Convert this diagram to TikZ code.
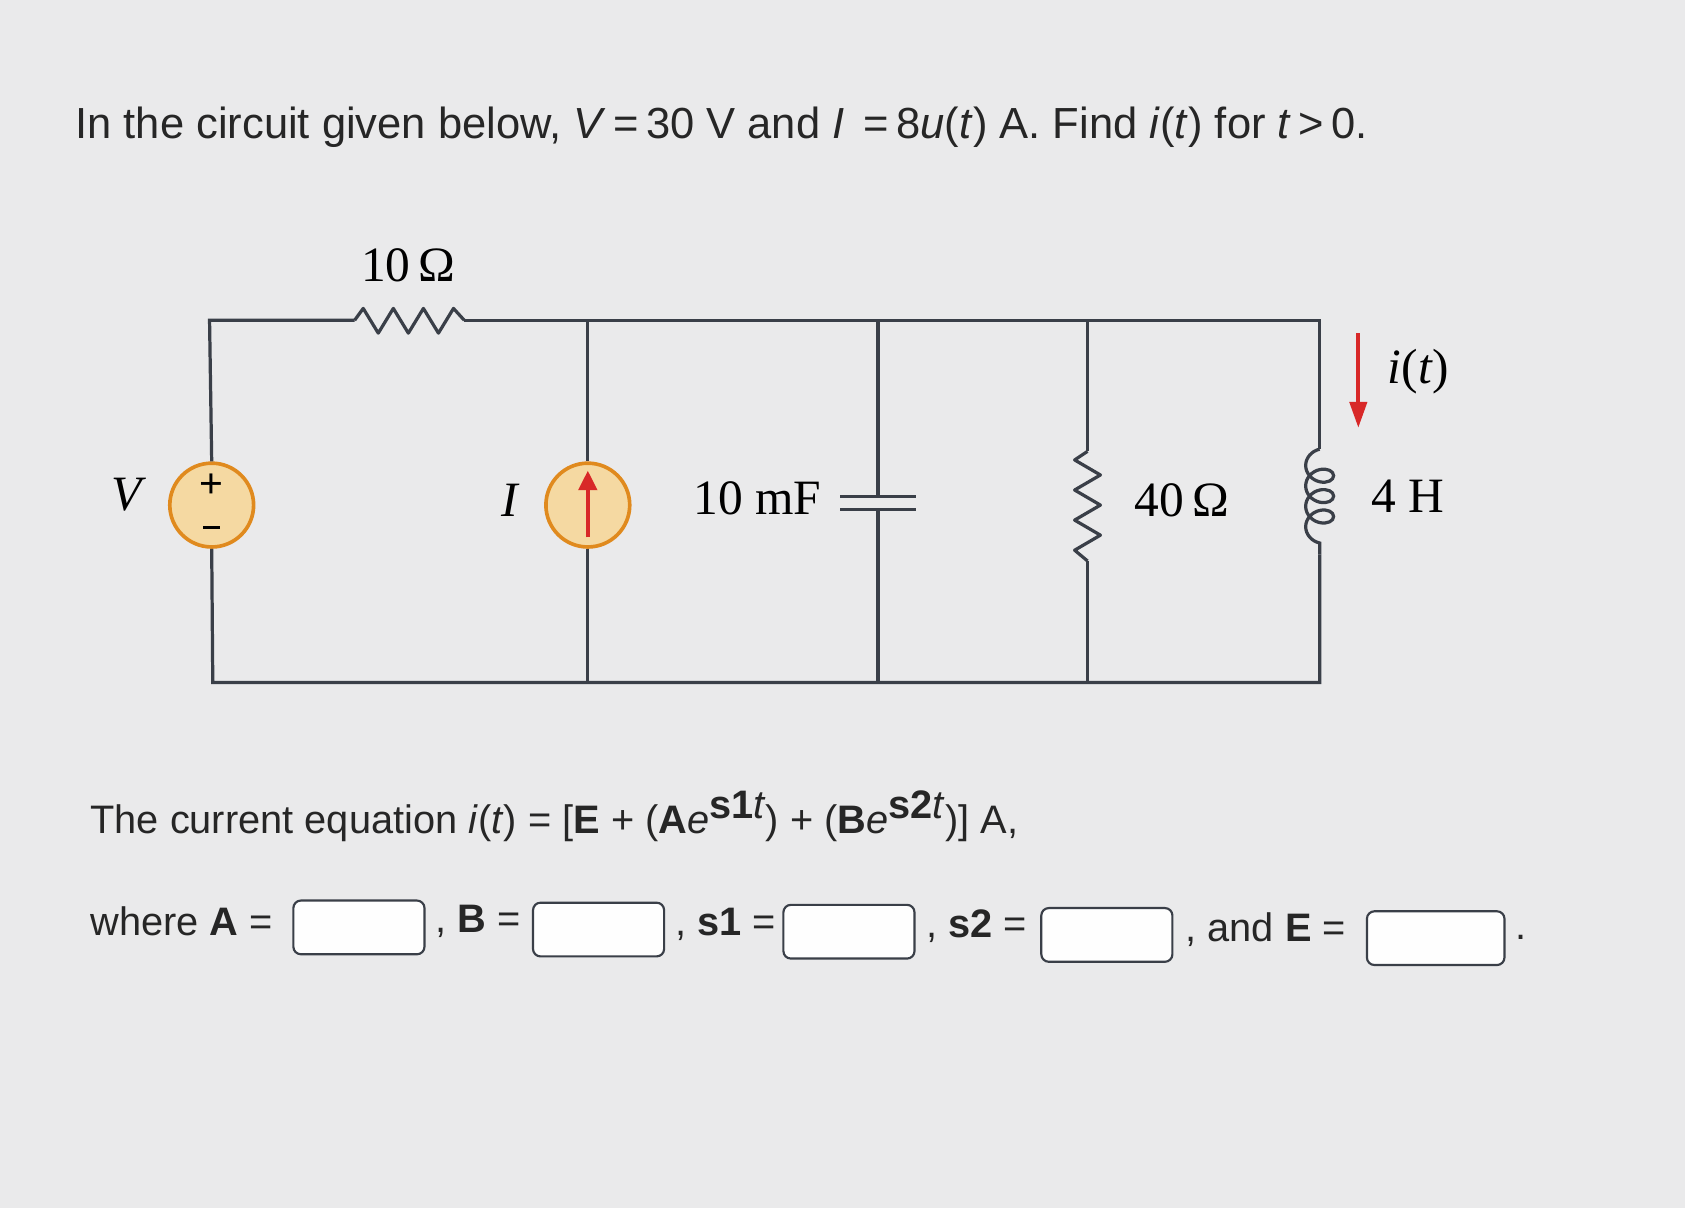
\documentclass[tikz,border=0pt]{standalone}
\usepackage{fontspec}
\setmainfont{Liberation Sans}
\newfontfamily\ckt{Liberation Serif}
\usetikzlibrary{decorations.pathmorphing,arrows.meta}
\definecolor{bg}{HTML}{EAEAEB}
\definecolor{srcfill}{HTML}{F5D9A2}
\definecolor{srcline}{HTML}{E08A1E}
\definecolor{wire}{HTML}{3A3F48}
\definecolor{arr}{HTML}{D82828}
\begin{document}
\begin{tikzpicture}[x=1pt,y=-1pt,
  w/.style={draw=wire,line width=3pt},
  src/.style={circle,draw=srcline,fill=srcfill,line width=3.4pt,minimum size=78pt,inner sep=0pt},
  lab/.style={font=\ckt\fontsize{46}{50}\selectfont,text=black},
  txt/.style={font=\fontsize{37}{42}\selectfont,text=black!85,anchor=west,inner sep=0},
  ans/.style={draw=wire,line width=2pt,rounded corners=7pt,fill=white!96!bg,minimum width=122pt,minimum height=50pt}]
\fill[bg] (0,0) rectangle (1568,1124);
\useasboundingbox (0,0) rectangle (1568,1124);
\node[txt,font=\fontsize{40.5}{44}\selectfont] (title) at (70,118) {In the circuit given below, \textit{V}\,=\,30 V and \textit{I} \,=\,8\textit{u}(\textit{t}) A. Find \textit{i}(\textit{t}) for \textit{t}\,>\,0.};
% corners
\coordinate (tl) at (195,298); \coordinate (bl) at (198,635);
\coordinate (r1a) at (330,298); \coordinate (r1b) at (432,298);
\coordinate (t2) at (547,298); \coordinate (b2) at (547,635);
\coordinate (t3) at (817,298); \coordinate (b3) at (817,635);
\coordinate (t4) at (1012,298); \coordinate (b4) at (1012,635);
\coordinate (t5) at (1228,298); \coordinate (b5) at (1228,635);
% sources
\node[src] (vs) at (197,470) {};
\node[font=\fontsize{38}{38}\selectfont] at (197,452) {+};
\draw[line width=2.4pt] (189,491)--(205,491);
\node[src] (is) at (547,470) {};
\draw[arr,line width=3.5pt,-{Triangle[length=18pt,width=17pt]}] (547,500)--(547,438);
% capacitor
\coordinate (c1) at (817,462); \coordinate (c2) at (817,474);
\draw[w] (782,462)--(852,462); \draw[w] (782,474)--(852,474);
% resistor 40
\coordinate (r2a) at (1012,420); \coordinate (r2b) at (1012,522);
\draw[w,line join=round] (r2a)--(1000,428)--(1024,442)--(1000,456)--(1024,470)--(1000,484)--(1024,498)--(1000,512)--(r2b);
% resistor 10
\draw[w,line join=round] (r1a)--(338,287)--(352,310)--(366,287)--(380,310)--(394,287)--(408,310)--(422,287)--(r1b);
% inductor
\coordinate (la) at (1228,418); \coordinate (lb) at (1228,516);
\draw[w,decorate,decoration={coil,aspect=0.8,segment length=19pt,amplitude=13pt,mirror}] (la)--(lb);
% wires
\draw[w] (vs.north)--(tl)--(r1a);
\draw[w] (r1b)--(t5)--(la);
\draw[w] (lb)--(b5)--(bl)--(vs.south);
\draw[w] (t2)--(is.north); \draw[w] (is.south)--(b2);
\draw[w] (t3)--(c1); \draw[w] (c2)--(b3);
\draw[w] (t4)--(r2a); \draw[w] (r2b)--(b4);
% current arrow
\coordinate (ia) at (1264,310); \coordinate (ib) at (1264,398);
\draw[arr,line width=3.5pt,-{Triangle[length=24pt,width=16pt]}] (ia)--(ib);
% labels
\node[lab] (lr1) at (380,247) {10\,Ω};
\node[lab] (lv) at (120,460) {\textit{V}};
\node[lab] (li) at (475,466) {\textit{I}};
\node[lab] (lc) at (705,464) {10 mF};
\node[lab] (lr2) at (1100,466) {40\,Ω};
\node[lab] (ll) at (1310,462) {4 H};
\node[lab] (lit) at (1320,346) {\textit{i}(\textit{t})};
% equation
\node[txt] (eq) at (84,760) {The current equation \textit{i}(\textit{t}) = [\textbf{E} + (\textbf{A}\textit{e}\raisebox{14pt}{\textbf{s1}\textit{t}}) + (\textbf{B}\textit{e}\raisebox{14pt}{\textbf{s2}\textit{t}})] A,};
\node[txt] (wa) at (84,857) {where \textbf{A} =};
\node[ans] (bA) at (334,863) {};
\node[txt] (wb) at (405,857) {, \textbf{B} =};
\node[ans] (bB) at (557,865) {};
\node[txt] (ws1) at (628,860) {, \textbf{s1} =};
\node[ans] (bs1) at (790,867) {};
\node[txt] (ws2) at (862,862) {, \textbf{s2} =};
\node[ans] (bs2) at (1030,870) {};
\node[txt] (wE) at (1103,865) {, and \textbf{E} =};
\node[ans,minimum width=128pt] (bE) at (1336,873) {};
\node[txt] (dot) at (1410,872) {.};
\end{tikzpicture}
\end{document}
